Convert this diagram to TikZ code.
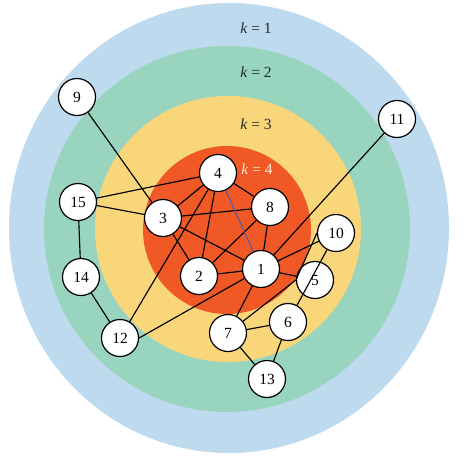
\documentclass[tikz,border=0pt]{standalone}
\usepackage{amsmath,amssymb}
\usepackage{fontspec}
\setmainfont{Liberation Serif}
\usepackage{tikz}
\usepackage{xcolor}
\usetikzlibrary{positioning}
\definecolor{shellone}{RGB}{190,218,238}
\definecolor{shelltwo}{RGB}{152,212,190}
\definecolor{shellthree}{RGB}{250,214,122}
\definecolor{shellfour}{RGB}{240,88,38}
\definecolor{edgeblue}{RGB}{92,90,160}
\definecolor{labelcream}{RGB}{252,236,214}
\definecolor{labeldark}{RGB}{35,40,45}

\begin{document}
\begin{tikzpicture}[x=1pt,y=-1pt,font=\fontsize{15.5}{18}\selectfont,
  vert/.style={circle,draw,fill=white,line width=1.2pt,minimum size=37pt,inner sep=0pt},
  link/.style={line width=1.15pt}]
  \useasboundingbox (0,0) rectangle (474,469);
  \fill[shellone]   (229,228) ellipse [x radius=220pt, y radius=225pt];
  \fill[shelltwo]   (227,229) circle [radius=183pt];
  \fill[shellthree] (228,229) circle [radius=133pt];
  \fill[shellfour]  (227,230) circle [radius=84pt];
  \node[labeldark] (k1) at (256,28) {\textit{k} = 1};
  \node[labeldark] (k2) at (256,72) {\textit{k} = 2};
  \node[labeldark] (k3) at (256,124) {\textit{k} = 3};
  \node[labelcream] (k4) at (257,169) {\textit{k} = 4};
  \node[vert] (n1)  at (261,269) {1};
  \node[vert] (n2)  at (199,276) {2};
  \node[vert] (n3)  at (163,218) {3};
  \node[vert] (n4)  at (218,173) {4};
  \node[vert] (n5)  at (315,280) {5};
  \node[vert] (n6)  at (288,322) {6};
  \node[vert] (n7)  at (228,333) {7};
  \node[vert] (n8)  at (270,207) {8};
  \node[vert] (n9)  at (77,97)   {9};
  \node[vert] (n10) at (336,233) {10};
  \node[vert] (n11) at (397,119) {11};
  \node[vert] (n12) at (120,338) {12};
  \node[vert] (n13) at (267,379) {13};
  \node[vert] (n14) at (81,277)  {14};
  \node[vert] (n15) at (78,202)  {15};
  \foreach \a/\b in {n9/n3, n15/n3, n15/n4, n15/n14, n14/n12, n12/n4, n3/n4,
                     n4/n2, n4/n8, n3/n8, n3/n2, n3/n1, n8/n2, n8/n1, n2/n1,
                     n1/n11, n1/n10, n1/n5, n1/n7, n6/n7, n6/n13, n7/n13, n10/n6}
    \draw[link] (\a) -- (\b);
  \draw[link,edgeblue] (n4) -- (n1);
  \draw[link] (n12.east) -- (n1);
  \draw[link] (n10.west) -- (n5.west) -- (n7);
\end{tikzpicture}
\end{document}
